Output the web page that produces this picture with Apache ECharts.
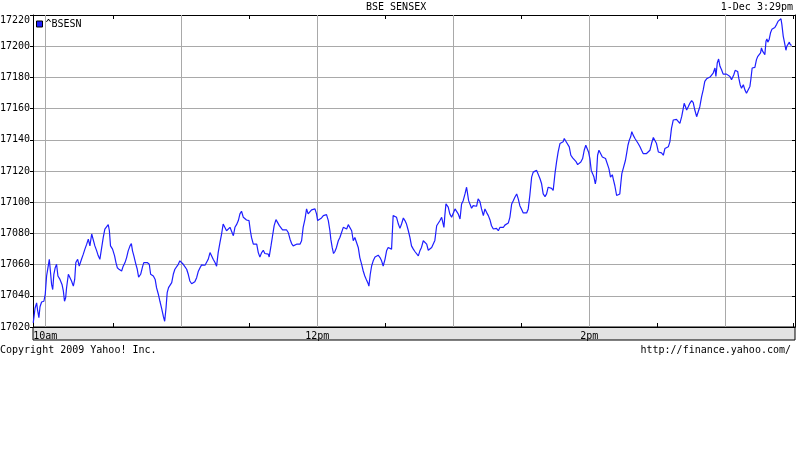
<!DOCTYPE html>
<html>
<head>
<meta charset="utf-8">
<script src="https://cdn.jsdelivr.net/npm/echarts@6/dist/echarts.min.js"></script>
<style>html,body{margin:0;padding:0;background:#fff}#c{width:800px;height:475px}</style>
</head>
<body>
<div id="c"></div>
<script>
// minutes relative to 10:00am
const times = [
-5.3,-4.5,-3.8,-3.4,-2.8,-2.3,-1.6,-0.6,0.0,0.6,1.2,1.8,2.4,2.8,3.3,3.8,4.4,5.0,5.6,6.5,7.4,8.0,8.5,9.0,9.4,10.2,10.9,11.6,12.4,13.0,13.5,14.3,15.0,16.0,16.8,17.5,18.3,19.0,19.7,20.5,21.2,21.9,22.7,23.4,24.1,24.9,25.6,26.3,27.1,27.8,28.3,28.8,29.7,30.6,31.2,31.8,32.7,33.7,34.4,35.2,35.9,36.6,37.4,38.0,38.5,39.1,40.0,40.6,41.2,42.1,43.0,43.5,44.1,45.0,45.9,46.5,47.7,48.5,49.1,49.9,50.6,51.3,52.1,52.7,53.3,53.8,54.4,55.0,55.8,56.5,57.2,58.0,58.7,59.4,60.2,60.9,61.6,62.4,63.1,63.8,64.6,65.3,66.0,66.8,67.5,68.3,69.0,69.7,70.5,71.2,71.9,72.7,73.4,74.1,74.9,75.6,76.3,77.1,77.8,78.5,
79.3,80.0,80.8,81.5,82.2,83.0,83.7,84.4,85.2,85.9,86.6,87.4,88.1,88.8,89.9,90.5,91.0,91.8,92.5,93.3,94.0,94.7,95.5,96.2,96.9,97.7,98.4,98.8,99.6,100.3,101.0,101.8,102.5,103.3,104.0,104.7,105.5,106.5,107.2,108.0,108.7,109.4,110.2,110.9,111.6,112.4,113.1,113.8,114.6,115.3,116.0,116.8,117.5,118.3,119.0,119.7,120.2,120.9,121.9,122.7,123.4,124.1,124.9,125.6,126.0,126.6,127.2,127.8,128.5,129.3,130.0,130.8,131.5,132.2,133.0,133.7,134.4,135.2,135.9,136.6,137.4,138.1,138.8,139.6,140.3,141.0,141.8,142.5,142.8,143.4,144.0,144.7,145.5,146.2,146.9,147.7,148.4,149.1,149.9,150.6,151.3,152.1,152.8,153.5,154.3,155.0,155.8,156.5,157.2,158.0,158.7,159.4,160.2,160.9,161.6,162.4,163.1,163.8,164.6,165.3,166.0,166.8,167.5,168.3,169.0,169.7,170.5,171.2,
171.9,172.7,173.4,174.1,174.9,175.3,175.9,176.3,176.8,177.4,177.8,178.5,179.3,180.0,180.8,181.5,182.2,183.0,183.7,184.4,185.2,185.9,186.3,186.8,187.4,188.1,188.8,189.6,190.3,191.0,191.8,192.5,193.3,194.0,194.7,195.5,196.2,196.9,197.7,198.4,199.1,199.9,200.6,201.3,202.1,202.8,203.5,204.3,205.0,205.8,206.5,207.2,208.0,208.7,209.4,210.2,210.9,211.6,212.4,213.1,213.8,214.6,215.3,216.0,216.8,217.5,218.3,219.0,219.7,220.5,221.2,221.9,222.7,223.4,224.1,224.9,225.6,226.3,227.1,227.8,228.5,229.0,229.7,230.5,231.2,231.9,232.7,233.4,234.1,234.9,235.6,236.3,237.1,237.8,238.5,239.1,239.7,240.3,240.9,241.5,242.1,242.7,243.1,243.7,244.3,245.0,245.8,246.5,247.2,248.0,248.7,249.4,250.2,250.6,251.3,252.1,252.8,
253.5,254.0,254.4,255.0,255.6,256.0,256.5,257.1,257.7,258.3,258.8,259.4,260.2,260.9,261.6,262.4,263.1,263.8,264.6,265.3,266.0,266.8,267.5,268.3,269.0,269.7,270.5,271.2,271.9,272.7,273.4,274.1,274.9,275.6,276.3,277.1,277.8,278.5,279.3,280.0,280.8,281.5,281.9,282.5,283.0,283.7,284.4,285.2,285.9,286.6,287.4,288.1,288.8,289.6,290.3,291.0,291.8,292.5,293.3,294.0,294.7,295.5,295.9,296.5,297.1,297.7,298.4,299.1,299.9,300.6,301.3,302.1,302.8,303.3,303.8,304.4,305.0,305.5,306.0,306.6,307.2,308.0,308.7,309.4,310.2,310.9,311.3,311.9,312.4,313.1,313.8,314.4,315.0,315.6,316.0,316.5,317.1,317.5,318.0,318.4,318.8,319.4,320.0,320.6,321.2,321.9,322.7,323.4,324.1,324.6,325.0,325.6,326.2,326.8,327.2,327.8,328.3,328.7,329.3
];
const values = [
17022.6,17032.0,17035.5,17031.0,17026.0,17033.0,17036.0,17036.5,17041.0,17052.7,17058.0,17063.4,17053.8,17047.3,17044.0,17053.8,17058.0,17060.2,17052.7,17050.5,17047.3,17043.0,17036.5,17038.7,17045.0,17053.8,17054.6,17049.5,17046.2,17050.5,17061.3,17063.4,17059.0,17063.4,17066.7,17069.9,17073.1,17076.3,17072.0,17079.6,17078.5,17072.0,17068.8,17065.6,17063.4,17064.5,17077.4,17082.8,17083.9,17085.6,17081.7,17072.0,17069.9,17065.6,17061.3,17058.0,17056.8,17055.9,17059.0,17061.3,17064.5,17068.8,17072.0,17073.5,17068.8,17065.6,17060.2,17057.0,17052.0,17053.8,17059.0,17061.3,17062.4,17061.3,17060.2,17053.8,17052.7,17050.5,17045.2,17041.0,17036.5,17032.3,17026.9,17023.7,17032.3,17042.0,17045.2,17046.2,17048.4,17053.8,17057.0,17057.0,17060.2,17062.4,17063.4,17060.2,17059.0,17057.0,17053.8,17049.5,17047.7,17047.7,17049.0,17051.6,17055.5,17058.0,17059.8,17059.8,17059.6,17060.2,17063.4,17067.7,17066.7,17063.4,17061.3,17059.0,17067.7,17074.2,17079.6,17086.0,
17085.3,17081.7,17082.8,17083.9,17085.0,17078.5,17083.9,17085.6,17088.2,17092.5,17094.2,17090.3,17089.2,17088.6,17088.2,17081.7,17077.4,17073.1,17073.5,17073.1,17067.7,17064.9,17067.7,17069.2,17067.1,17067.1,17066.7,17064.9,17072.0,17078.5,17085.0,17088.8,17087.7,17085.0,17083.9,17082.2,17081.7,17082.2,17080.6,17076.3,17073.5,17072.0,17071.4,17073.1,17074.2,17073.1,17075.3,17083.9,17089.2,17095.7,17092.5,17093.5,17095.1,17095.7,17095.7,17092.5,17088.2,17089.2,17089.9,17091.4,17092.5,17092.0,17088.2,17081.7,17076.3,17071.0,17067.1,17068.4,17071.0,17075.3,17077.4,17077.0,17083.9,17085.0,17082.8,17085.6,17084.5,17081.7,17075.3,17077.4,17076.3,17071.0,17064.5,17060.2,17055.9,17052.7,17049.9,17047.7,17046.2,17053.8,17059.1,17062.4,17064.9,17066.0,17066.0,17064.5,17062.4,17059.1,17063.4,17068.8,17071.0,17071.4,17069.9,17091.4,17091.4,17090.3,17086.0,17083.2,17086.0,17089.9,17088.2,17086.0,17081.7,17077.4,17072.0,17069.9,17068.4,17067.7,17065.6,17068.8,17071.0,17075.3,17075.9,17073.1,17069.2,17069.9,17071.0,17071.0,
17075.5,17084.9,17086.0,17088.1,17090.3,17089.2,17083.8,17091.4,17098.9,17100.0,17096.8,17092.5,17090.3,17091.4,17095.7,17094.6,17092.5,17089.2,17098.9,17101.0,17105.3,17109.6,17108.6,17101.0,17100.0,17096.1,17097.8,17097.4,17097.4,17102.1,17100.4,17095.7,17091.4,17095.7,17093.5,17091.4,17088.8,17084.9,17082.8,17082.8,17083.2,17081.7,17083.8,17082.8,17083.8,17085.3,17086.0,17086.6,17090.3,17098.9,17101.0,17103.2,17105.3,17102.1,17097.8,17095.3,17093.1,17092.5,17093.1,17095.7,17104.3,17116.1,17119.3,17120.4,17120.4,17119.3,17115.0,17111.8,17105.3,17103.6,17105.3,17109.6,17109.6,17108.9,17107.5,17118.3,17125.8,17132.2,17137.6,17136.5,17138.7,17140.8,17139.1,17138.3,17135.5,17130.1,17128.4,17128.0,17126.2,17124.1,17124.7,17125.8,17128.0,17133.3,17136.5,17135.5,17132.2,17128.0,17120.4,17118.3,17116.1,17111.8,17115.0,17130.1,17133.3,17132.2,17129.0,17130.1,17128.0,17126.9,17121.5,17116.1,17117.6,17115.0,17110.7,17104.3,17103.2,
17105.3,17112.8,17118.3,17121.5,17122.5,17126.9,17131.2,17136.5,17139.8,17141.9,17145.2,17143.0,17140.8,17139.8,17137.6,17135.5,17133.3,17131.2,17130.1,17131.2,17130.5,17133.3,17137.6,17141.5,17140.8,17137.6,17132.2,17131.2,17131.6,17130.1,17134.4,17135.5,17135.5,17138.7,17147.3,17152.7,17153.8,17153.1,17152.7,17150.5,17154.8,17160.2,17163.4,17161.2,17159.1,17161.2,17163.4,17165.1,17163.8,17159.1,17154.8,17158.0,17161.2,17167.7,17172.0,17177.4,17179.1,17179.5,17180.2,17180.6,17182.8,17186.0,17180.6,17189.2,17191.8,17187.1,17184.9,17182.1,17182.3,17182.1,17181.7,17180.6,17178.5,17177.4,17181.7,17184.5,17185.4,17183.8,17179.5,17175.3,17173.1,17175.3,17172.0,17169.9,17170.9,17174.2,17178.5,17186.0,17187.1,17186.4,17191.4,17193.5,17192.5,17195.7,17198.9,17196.8,17197.8,17194.6,17203.2,17204.7,17202.6,17204.3,17208.6,17210.8,17211.8,17212.0,17214.0,17216.1,17217.2,17217.6,17214.0,17206.5,17202.2,17197.4,17200.0,17200.0,17202.6,17201.1,17200.4
];
const hourLines = [0, 60, 120, 180, 240, 300];
const halfHourTicks = [0, 30, 60, 90, 120, 150, 180, 210, 240, 270, 300, 330];
const xLabelValues = [0, 120, 240];
const xLabelText = {0: '10am', 120: '12pm', 240: '2pm'};
const yMin = 17020, yMax = 17220, yStep = 20;
const seriesName = '^BSESN';
const titleText = 'BSE SENSEX';
const dateText = '1-Dec 3:29pm';
const copyrightText = 'Copyright 2009 Yahoo! Inc.';
const urlText = 'http://finance.yahoo.com/';

const FONT = 'DejaVu Sans Mono';
const txt = {fontFamily: FONT, fontSize: 10, fontWeight: 'normal', color: '#000'};
const LINE_BLUE = '#1e1eff';
const GRID_GRAY = '#a9a9a9';

const chart = echarts.init(document.getElementById('c'), null, {renderer: 'canvas'});
const data = times.map((t, i) => [t, values[i]]);

const G = {left: 33, top: 15, width: 762, height: 312};

chart.setOption({
  animation: false,
  backgroundColor: '#fff',
  title: [
    {text: titleText, left: 366, top: 2, padding: 0, textStyle: txt},
    {text: dateText, right: 7, top: 2, padding: 0, textStyle: txt},
    {text: copyrightText, left: 0, top: 345, padding: 0, textStyle: txt},
    {text: urlText, right: 9, top: 345, padding: 0, textStyle: txt}
  ],
  legend: {
    left: 36, top: 19, padding: 0, itemWidth: 6, itemHeight: 6, icon: 'rect',
    itemStyle: {borderColor: '#000', borderWidth: 1},
    textStyle: Object.assign({}, txt, {padding: [3, 0, 0, -2]}),
    data: [seriesName]
  },
  grid: Object.assign({show: false, containLabel: false, outerBoundsMode: 'none'}, G),
  graphic: {
    elements: [{
      type: 'rect', z: -1, silent: true,
      shape: {x: G.left, y: G.top + G.height, width: G.width, height: 13},
      style: {fill: '#e3e3e3', stroke: '#000', lineWidth: 1}
    }]
  },
  xAxis: [
    {
      type: 'value', position: 'bottom', min: -5.4, max: 330.8,
      axisLine: {show: true, onZero: false, lineStyle: {color: '#000', width: 1}},
      axisTick: {show: true, inside: true, length: 4, customValues: halfHourTicks, lineStyle: {color: '#000'}},
      axisLabel: Object.assign({}, txt, {customValues: xLabelValues, margin: 3, lineHeight: 12,
        formatter: v => xLabelText[v] || ''}),
      splitLine: {show: false}
    },
    {
      type: 'value', position: 'top', min: -5.4, max: 330.8,
      axisLine: {show: true, onZero: false, lineStyle: {color: '#000', width: 1}},
      axisTick: {show: true, inside: true, length: 4, customValues: halfHourTicks, lineStyle: {color: '#000'}},
      axisLabel: {show: false},
      splitLine: {show: false}
    }
  ],
  yAxis: [
    {
      type: 'value', position: 'left', min: yMin, max: yMax, interval: yStep,
      axisLine: {show: true, onZero: false, lineStyle: {color: '#000', width: 1}},
      axisTick: {show: true, inside: false, length: 3, lineStyle: {color: '#000'}},
      axisLabel: Object.assign({}, txt, {margin: 3, verticalAlignMaxLabel: 'top',
        formatter: v => String(v)}),
      splitLine: {show: true, lineStyle: {color: GRID_GRAY, width: 1}}
    },
    {
      type: 'value', position: 'right', min: yMin, max: yMax, interval: yStep,
      axisLine: {show: true, onZero: false, lineStyle: {color: '#000', width: 1}},
      axisTick: {show: true, inside: true, length: 3, lineStyle: {color: '#000'}},
      axisLabel: {show: false},
      splitLine: {show: false}
    }
  ],
  series: [{
    name: seriesName,
    type: 'line',
    xAxisIndex: 0, yAxisIndex: 0,
    data: data,
    showSymbol: false,
    symbol: 'none',
    z: 3,
    lineStyle: {color: LINE_BLUE, width: 1.2},
    itemStyle: {color: LINE_BLUE},
    emphasis: {disabled: true},
    markLine: {
      silent: true, z: 1,
      symbol: ['none', 'none'],
      label: {show: false},
      lineStyle: {color: GRID_GRAY, width: 1, type: 'solid'},
      emphasis: {disabled: true},
      data: hourLines.map(v => ({xAxis: v}))
    }
  }]
});
</script>
</body>
</html>
